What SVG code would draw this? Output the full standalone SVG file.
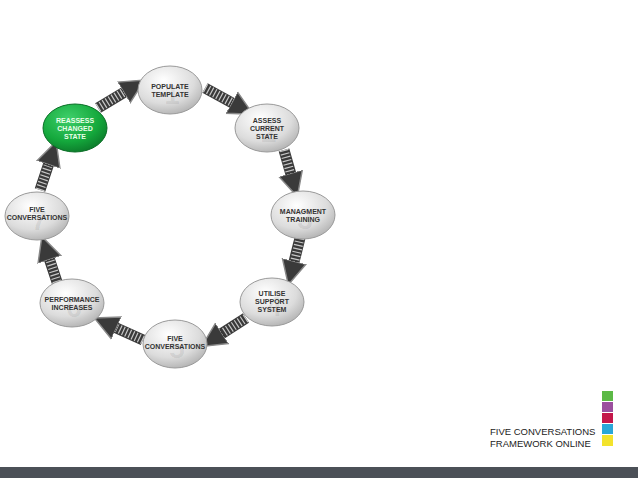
<svg xmlns="http://www.w3.org/2000/svg" width="638" height="478" viewBox="0 0 638 478">
<defs>
<radialGradient id="g" cx="0.4" cy="0.3" r="0.8"><stop offset="0" stop-color="#ffffff"/><stop offset="0.6" stop-color="#dcdcdc"/><stop offset="1" stop-color="#a8a8a8"/></radialGradient>
<radialGradient id="gg" cx="0.4" cy="0.3" r="0.8"><stop offset="0" stop-color="#3fcf6a"/><stop offset="0.6" stop-color="#14a83c"/><stop offset="1" stop-color="#0a6e26"/></radialGradient>
<marker id="ah" viewBox="0 0 10 10" refX="2" refY="5" markerWidth="2.2" markerHeight="2.6" orient="auto" markerUnits="strokeWidth"><path d="M0,0 L10,5 L0,10 z" fill="#3a3a3a" stroke="#888" stroke-width="0.6"/></marker>
</defs>
<style>
.n{stroke:#9a9a9a;stroke-width:1}
.t{font-family:"Liberation Sans",Arial,sans-serif;font-size:7px;font-weight:bold;fill:#333;text-anchor:middle}
.tw{fill:#e8ffe8}
.num{font-family:"Liberation Sans",Arial,sans-serif;font-size:28px;font-weight:bold;fill:#000;fill-opacity:0.08;text-anchor:middle}
.a{stroke:#3a3a3a;stroke-width:11;fill:none;marker-end:url(#ah)}
.s{stroke:#c8c8c8;stroke-width:9;stroke-dasharray:1.2 2.3;fill:none}
</style>
<rect width="638" height="478" fill="#fff"/>
<g id="connectors">
<path class="a" d="M98,108 L128,90"/><path class="s" d="M98,108 L124,92"/>
<path class="a" d="M205,88 L236,105"/><path class="s" d="M205,88 L231,102"/>
<path class="a" d="M284,150 L292,178"/><path class="s" d="M284,150 L290,172"/>
<path class="a" d="M300,238 L293,266"/><path class="s" d="M300,238 L295,260"/>
<path class="a" d="M246,318 L218,336"/><path class="s" d="M246,318 L223,333"/>
<path class="a" d="M143,340 L112,326"/><path class="s" d="M143,340 L117,328"/>
<path class="a" d="M57,282 L48,255"/><path class="s" d="M57,282 L50,260"/>
<path class="a" d="M40,190 L50,160"/><path class="s" d="M40,190 L48,166"/>
</g>
<g id="n1"><ellipse class="n" cx="170" cy="90" rx="32" ry="24" fill="url(#g)"/><text class="num" x="172" y="104">1</text><text class="t" x="170" y="89">POPULATE</text><text class="t" x="170" y="97">TEMPLATE</text></g>
<g id="n2"><ellipse class="n" cx="267" cy="128" rx="32" ry="24" fill="url(#g)"/><text class="num" x="269" y="142">2</text><text class="t" x="267" y="123">ASSESS</text><text class="t" x="267" y="131">CURRENT</text><text class="t" x="267" y="139">STATE</text></g>
<g id="n3"><ellipse class="n" cx="303" cy="215" rx="32" ry="24" fill="url(#g)"/><text class="num" x="305" y="229">3</text><text class="t" x="303" y="214">MANAGMENT</text><text class="t" x="303" y="222">TRAINING</text></g>
<g id="n4"><ellipse class="n" cx="272" cy="302" rx="32" ry="24" fill="url(#g)"/><text class="num" x="274" y="316">4</text><text class="t" x="272" y="296">UTILISE</text><text class="t" x="272" y="304">SUPPORT</text><text class="t" x="272" y="312">SYSTEM</text></g>
<g id="n5"><ellipse class="n" cx="175" cy="344" rx="32" ry="24" fill="url(#g)"/><text class="num" x="177" y="358">5</text><text class="t" x="175" y="341">FIVE</text><text class="t" x="175" y="349">CONVERSATIONS</text></g>
<g id="n6"><ellipse class="n" cx="72" cy="303" rx="32" ry="24" fill="url(#g)"/><text class="num" x="74" y="317">6</text><text class="t" x="72" y="302">PERFORMANCE</text><text class="t" x="72" y="310">INCREASES</text></g>
<g id="n7"><ellipse class="n" cx="37" cy="216" rx="32" ry="24" fill="url(#g)"/><text class="num" x="39" y="230">7</text><text class="t" x="37" y="212">FIVE</text><text class="t" x="37" y="220">CONVERSATIONS</text></g>
<g id="n8"><ellipse cx="75" cy="128" rx="32" ry="24" fill="url(#gg)" stroke="#0a6e26"/><text class="t tw" x="75" y="123">REASSESS</text><text class="t tw" x="75" y="131">CHANGED</text><text class="t tw" x="75" y="139">STATE</text></g>
<g id="logo">
<rect x="602" y="391" width="11" height="10" fill="#5cb946"/>
<rect x="602" y="402" width="11" height="10" fill="#9b4f9e"/>
<rect x="602" y="413" width="11" height="10" fill="#c4174a"/>
<rect x="602" y="424" width="11" height="10" fill="#2aa7d8"/>
<rect x="602" y="435" width="11" height="11" fill="#f3e32c"/>
<text x="490" y="435" font-family="'Liberation Sans',Arial,sans-serif" font-size="9.5" fill="#222">FIVE CONVERSATIONS</text>
<text x="490" y="447" font-family="'Liberation Sans',Arial,sans-serif" font-size="9.5" fill="#222">FRAMEWORK ONLINE</text>
</g>
<rect x="0" y="467" width="638" height="11" fill="#4b5057"/>
</svg>
